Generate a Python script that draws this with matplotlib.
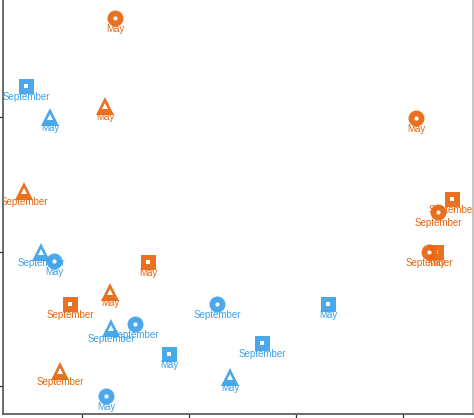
import matplotlib
matplotlib.use("Agg")
import matplotlib.pyplot as plt

plt.rcParams['font.family'] = ['Liberation Sans', 'DejaVu Sans']

# ---- data ----
orange_x = [1.308, 4.121, 1.215, 0.458, 1.262, 0.794, 1.617, 0.888, 4.458, 4.327, 4.308, 4.243]
orange_y = [3.736, 2.993, 3.082, 2.450, 1.699, 1.112, 1.922, 1.610, 2.390, 2.294, 1.996, 1.996]
orange_shape = ['o', 'o', '^', '^', '^', '^', 's', 's', 's', 'o', 's', 'o']
orange_label = ['May', 'May', 'May', 'September', 'May', 'September', 'May', 'September',
                'September', 'September', 'May', 'September']

blue_x = [0.477, 0.701, 0.617, 0.738, 2.262, 1.271, 1.495, 1.813, 1.224, 2.383, 2.682, 3.299]
blue_y = [3.230, 3.000, 1.996, 1.929, 1.610, 1.431, 1.461, 1.238, 0.926, 1.067, 1.320, 1.610]
blue_shape = ['s', '^', '^', 'o', 'o', '^', 'o', 's', 'o', '^', 's', 's']
blue_label = ['September', 'May', 'September', 'May', 'September', 'September', 'September',
              'May', 'May', 'May', 'September', 'May']

x_ticks = [1, 2, 3, 4]
y_ticks = [1, 2, 3]

ORANGE = '#E8650F'
BLUE = '#3BA1EA'

fig = plt.figure(figsize=(4.74, 4.18), dpi=100)
ax = fig.add_axes([3 / 474, 4 / 418, 470 / 474, 414 / 418])

size_outer = {'o': 11.5, 's': 10.8, '^': 13.5}
size_inner = {'o': 3.0, 's': 3.0, '^': 4.0}

z = 2
series = [(blue_x, blue_y, blue_shape, blue_label, BLUE),
          (orange_x, orange_y, orange_shape, orange_label, ORANGE)]
for xs, ys, shapes, labels, col in series:
    for x, y, m, lab in zip(xs, ys, shapes, labels):
        ax.plot([x], [y], marker=m, markersize=size_outer[m], color=col,
                markeredgewidth=0, alpha=0.92, linestyle='none', zorder=z)
        ax.plot([x], [y], marker=m, markersize=size_inner[m], color='white',
                markeredgewidth=0, linestyle='none', zorder=z + 0.1)
        ax.annotate(lab, (x, y), xytext=(0, -11), textcoords='offset pixels',
                    ha='center', va='center', fontsize=7, color=col,
                    zorder=z + 0.2, annotation_clip=False, clip_on=True)
        z += 1

ax.set_xlim(0.262, 4.654)
ax.set_ylim(0.792, 3.870)
ax.set_xticks(x_ticks)
ax.set_yticks(y_ticks)
ax.set_xticklabels([])
ax.set_yticklabels([])
ax.tick_params(direction='out', length=3, width=0.9, color='#333333')

ax.spines['top'].set_visible(False)
ax.spines['left'].set_color('#444444')
ax.spines['bottom'].set_color('#444444')
ax.spines['left'].set_linewidth(1.1)
ax.spines['bottom'].set_linewidth(1.1)
ax.spines['right'].set_color('#c8c8c8')
ax.spines['right'].set_linewidth(1.5)

fig.savefig('out.png', dpi=100)
